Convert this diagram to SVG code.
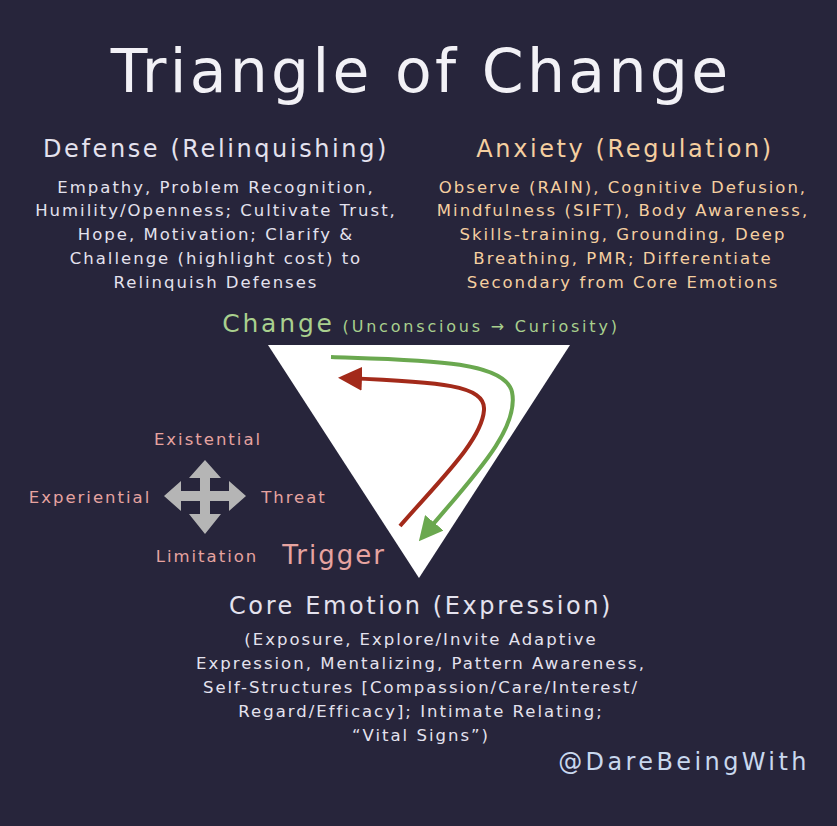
<svg xmlns="http://www.w3.org/2000/svg" width="837" height="826" viewBox="0 0 837 826">
<style>
text{font-family:"DejaVu Sans","Noto Sans",sans-serif;text-anchor:middle}
.h{font-size:24px;letter-spacing:2.6px}
.b{font-size:16.5px;letter-spacing:2px}
.w{fill:#e4e2ee}
.o{fill:#f5cfa0}
.p{fill:#e6a3a0}
.g{fill:#a9d08e}
</style>
<defs>
<marker id="ag" markerWidth="6" markerHeight="6" refX="4" refY="3" orient="auto" markerUnits="strokeWidth"><path d="M0,0L6,3L0,6z" fill="#6aa84f"/></marker>
<marker id="ar" markerWidth="6" markerHeight="6" refX="4" refY="3" orient="auto" markerUnits="strokeWidth"><path d="M0,0L6,3L0,6z" fill="#a32a1a"/></marker>
</defs>
<rect width="837" height="826" fill="#27253b"/>
<text x="421" y="92" font-size="60" fill="#f2f1f6" letter-spacing="3.3">Triangle of Change</text>
<g id="defense">
<text class="h w" x="216" y="157">Defense (Relinquishing)</text>
<text class="b w" x="216" y="193">Empathy, Problem Recognition,</text>
<text class="b w" x="216" y="216">Humility/Openness; Cultivate Trust,</text>
<text class="b w" x="216" y="240">Hope, Motivation; Clarify &amp;</text>
<text class="b w" x="216" y="264">Challenge (highlight cost) to</text>
<text class="b w" x="216" y="288">Relinquish Defenses</text>
</g>
<g id="anxiety">
<text class="h o" x="625" y="157">Anxiety (Regulation)</text>
<text class="b o" x="623" y="193">Observe (RAIN), Cognitive Defusion,</text>
<text class="b o" x="623" y="216">Mindfulness (SIFT), Body Awareness,</text>
<text class="b o" x="623" y="240">Skills-training, Grounding, Deep</text>
<text class="b o" x="623" y="264">Breathing, PMR; Differentiate</text>
<text class="b o" x="623" y="288">Secondary from Core Emotions</text>
</g>
<g id="change">
<text x="421" y="332" class="g" font-size="25" letter-spacing="2.8"><tspan>Change</tspan><tspan font-size="16"> (Unconscious → Curiosity)</tspan></text>
</g>
<g id="triangle">
<path d="M268,345L570,345L419,578z" fill="#fff"/>
</g>
<g id="connectors" fill="none" stroke-width="4">
<path d="M331,357C420,360 505,360 512,392C520,430 470,480 424,535" stroke="#6aa84f" marker-end="url(#ag)"/>
<path d="M400,526C440,480 482,440 484,410C486,385 440,382 346,378" stroke="#a32a1a" marker-end="url(#ar)"/>
</g>
<g id="cross">
<path fill="#b5b5b5" d="M205,460L221,478L210,478L210,491L229,491L229,481L246,496L229,511L229,501L210,501L210,514L221,514L205,534L189,514L200,514L200,501L181,501L181,511L164,496L181,481L181,491L200,491L200,478L189,478z"/>
<text class="b p" x="208" y="445">Existential</text>
<text class="b p" x="90" y="503">Experiential</text>
<text class="b p" x="294" y="503">Threat</text>
<text class="b p" x="207" y="562">Limitation</text>
</g>
<g id="trigger"><text x="334" y="564" font-size="26" letter-spacing="2" class="p">Trigger</text></g>
<g id="core">
<text class="h w" x="421" y="614">Core Emotion (Expression)</text>
<text class="b w" x="421" y="645">(Exposure, Explore/Invite Adaptive</text>
<text class="b w" x="421" y="669">Expression, Mentalizing, Pattern Awareness,</text>
<text class="b w" x="421" y="693">Self-Structures [Compassion/Care/Interest/</text>
<text class="b w" x="421" y="717">Regard/Efficacy]; Intimate Relating;</text>
<text class="b w" x="421" y="741">“Vital Signs”)</text>
</g>
<text x="684" y="770" font-size="24" letter-spacing="3.4" fill="#c9d8ee">@DareBeingWith</text>
</svg>
